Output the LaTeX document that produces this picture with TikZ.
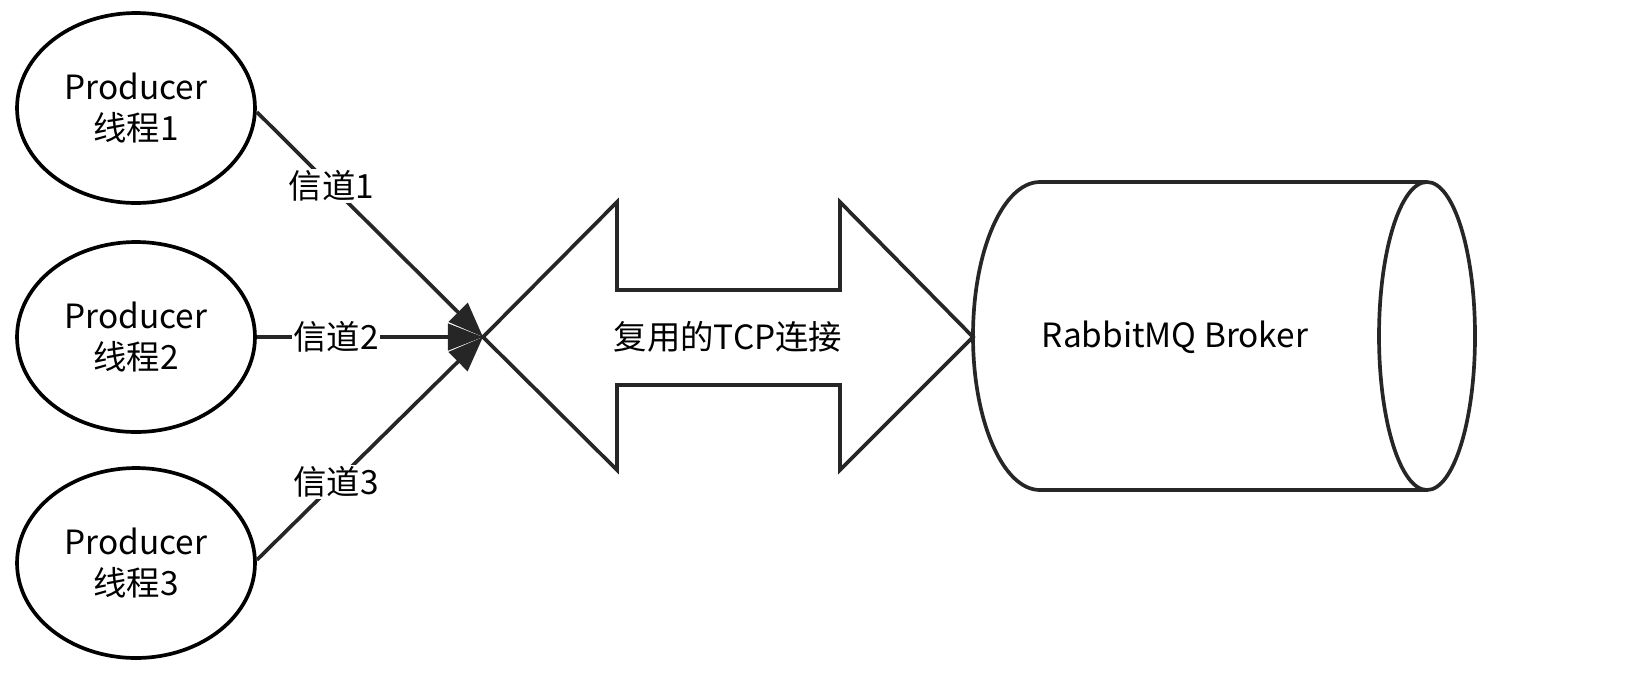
\documentclass[tikz,border=0pt]{standalone}
\usepackage{fontspec}
\setmainfont{Noto Sans CJK SC}
\usetikzlibrary{shapes.geometric,arrows.meta}
\begin{document}
\begin{tikzpicture}[x=0.02cm,y=-0.02cm,line width=2.1pt,
  prod/.style={draw,ellipse,minimum width=4.76cm,minimum height=3.8cm,align=center,font=\fontsize{19}{23}\selectfont,inner sep=0pt},
  lab/.style={fill=white,font=\fontsize{19}{23}\selectfont,inner sep=1pt},
  conn/.style={-{Triangle[length=20pt,width=15pt]},draw=black!85}]
\useasboundingbox (0,0) rectangle (1628,694);
\node[prod] (p1) at (136,108) {Producer\\线程1};
\node[prod] (p2) at (136,337) {Producer\\线程2};
\node[prod] (p3) at (136,563) {Producer\\线程3};
\coordinate (tip) at (483,337);
\draw[conn] (p1.east |- 0,112) -- node[lab,pos=0.33]{信道1} (tip);
\draw[conn] (p2.east) -- node[lab,pos=0.35]{信道2} (tip);
\draw[conn] (p3.east |- 0,560) -- node[lab,pos=0.35]{信道3} (tip);
\draw[draw=black!85] (tip) -- (617,202) -- (617,290) -- (840,290) -- (840,202) -- (973,337)
  -- (840,470) -- (840,385) -- (617,385) -- (617,470) -- cycle;
\node[font=\fontsize{19}{23}\selectfont] (t) at (728,337) {复用的TCP连接};
\draw[draw=black!85] (1040,182) -- (1427,182);
\draw[draw=black!85] (1040,490) -- (1427,490);
\draw[draw=black!85] (1040,182) arc[start angle=90,end angle=270,x radius=67,y radius=-154];
\draw[draw=black!85] (1427,336) ellipse[x radius=48,y radius=154];
\node[font=\fontsize{19}{23}\selectfont] (b) at (1175,337) {RabbitMQ Broker};
\end{tikzpicture}
\end{document}
